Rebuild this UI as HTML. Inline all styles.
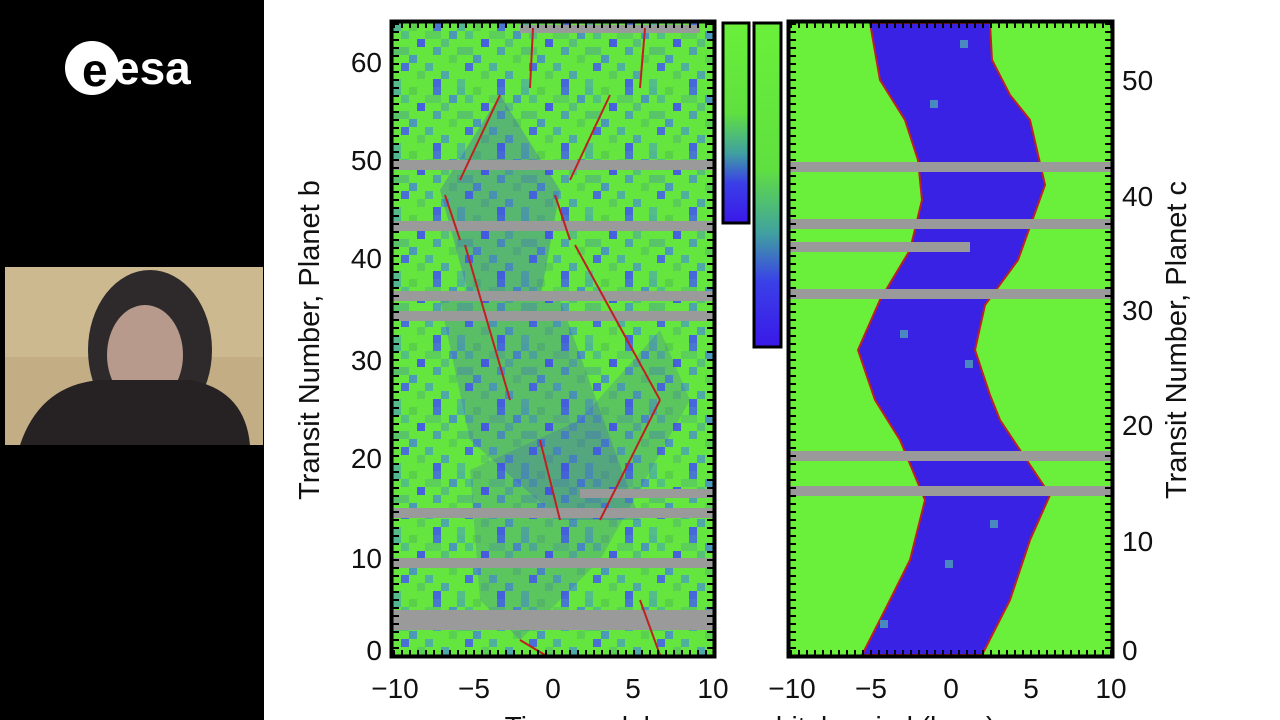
<!DOCTYPE html>
<html><head><meta charset="utf-8"><style>
html,body{margin:0;padding:0;width:1280px;height:720px;overflow:hidden;background:#fff;font-family:"Liberation Sans",sans-serif}
</style></head><body>
<svg width="1280" height="720" xmlns="http://www.w3.org/2000/svg" style="position:absolute;left:0;top:0">
<defs>
<pattern id="nz" x="393" y="23" width="64" height="64" patternUnits="userSpaceOnUse">
<rect width="64" height="64" fill="#64e63e"/>
<rect x="0" y="0" width="8" height="8" fill="#50b890"/><rect x="16" y="0" width="8" height="8" fill="#5ad04a"/>
<rect x="40" y="0" width="8" height="8" fill="#4878d0"/><rect x="8" y="8" width="8" height="8" fill="#52c080"/>
<rect x="32" y="8" width="16" height="8" fill="#5ccf5a"/><rect x="56" y="8" width="8" height="8" fill="#4c98b8"/>
<rect x="24" y="16" width="8" height="8" fill="#4860dc"/><rect x="48" y="16" width="8" height="8" fill="#56c078"/>
<rect x="0" y="24" width="16" height="8" fill="#58c468"/><rect x="40" y="24" width="8" height="8" fill="#4ea4a8"/>
<rect x="16" y="32" width="8" height="8" fill="#4c98b8"/><rect x="56" y="32" width="8" height="8" fill="#5ad050"/>
<rect x="8" y="40" width="8" height="8" fill="#4a70d8"/><rect x="32" y="40" width="8" height="8" fill="#50b0a0"/>
<rect x="48" y="48" width="8" height="8" fill="#4ea8a8"/><rect x="24" y="48" width="8" height="8" fill="#5ccc58"/>
<rect x="0" y="56" width="8" height="8" fill="#54bc88"/><rect x="40" y="56" width="8" height="8" fill="#4866dc"/>
</pattern>
<linearGradient id="cb" x1="0" y1="0" x2="0" y2="1">
<stop offset="0" stop-color="#6af03a"/><stop offset="0.45" stop-color="#60e040"/><stop offset="0.65" stop-color="#40a0a0"/><stop offset="0.8" stop-color="#3a40e8"/><stop offset="1" stop-color="#3a18e8"/></linearGradient>
</defs>
<rect x="0" y="0" width="264" height="720" fill="#000"/>
<circle cx="92" cy="68" r="27" fill="#fff"/>
<text x="82" y="86" font-size="46" font-weight="bold" fill="#000">e</text>
<text x="114" y="84" font-size="46" font-weight="bold" fill="#fff">esa</text>
<rect x="5" y="267" width="258" height="178" fill="#c2ad84"/>
<rect x="5" y="267" width="258" height="90" fill="#cdb98f"/>
<ellipse cx="150" cy="350" rx="62" ry="80" fill="#2e2a2c"/>
<ellipse cx="145" cy="355" rx="38" ry="50" fill="#b89a8c"/>
<path d="M20 445 Q40 385 100 380 L190 380 Q245 390 250 445 Z" fill="#262224"/>
<!-- left panel -->
<rect x="393" y="23" width="320" height="632" fill="url(#nz)"/>
<polygon points="440,190 500,95 560,190 540,300 470,300" fill="#3c48e0" opacity="0.3"/>
<polygon points="440,300 560,300 640,520 560,520 470,440" fill="#3c48e0" opacity="0.25"/>
<polygon points="470,470 580,420 660,330 690,400 600,560 520,640 480,600" fill="#3c48e0" opacity="0.2"/>
<g fill="#9a9a9a">
<rect x="393" y="160" width="320" height="10"/><rect x="393" y="221" width="320" height="10"/>
<rect x="393" y="291" width="320" height="10"/><rect x="393" y="311" width="320" height="10"/>
<rect x="580" y="489" width="133" height="9"/><rect x="393" y="508" width="320" height="10"/>
<rect x="393" y="558" width="320" height="10"/><rect x="393" y="610" width="320" height="20"/>
<rect x="520" y="25" width="180" height="8"/></g>
<g stroke="#c02020" stroke-width="2" fill="none">
<path d="M533 28 L530 88 M645 28 L640 88 M500 95 L460 180 M610 95 L570 180 M445 195 L460 240 M555 195 L570 240 M465 245 L510 400 M575 245 L660 400 M540 440 L560 520 M660 400 L600 520 M520 640 L545 655 M640 600 L660 655"/></g>
<!-- colorbars -->
<rect x="723" y="23" width="26" height="200" fill="url(#cb)" stroke="#000" stroke-width="3"/>
<rect x="754" y="23" width="27" height="324" fill="url(#cb)" stroke="#000" stroke-width="3"/>
<!-- right panel -->
<rect x="790" y="23" width="321" height="632" fill="#6af03a"/>
<polygon points="870,23 880,80 905,120 918,160 922,200 910,250 880,300 858,350 875,400 900,440 925,500 910,560 885,610 862,655 982,655 1010,600 1030,540 1050,495 1020,450 1000,420 990,395 975,350 985,305 1018,260 1045,185 1030,120 1010,95 992,60 990,23" fill="#3a22e4" stroke="#c02020" stroke-width="2"/>
<g fill="#4a88c0"><rect x="930" y="100" width="8" height="8"/><rect x="960" y="40" width="8" height="8"/><rect x="900" y="330" width="8" height="8"/><rect x="965" y="360" width="8" height="8"/><rect x="945" y="560" width="8" height="8"/><rect x="990" y="520" width="8" height="8"/><rect x="880" y="620" width="8" height="8"/></g>
<g fill="#9a9a9a">
<rect x="790" y="162" width="321" height="10"/><rect x="790" y="219" width="321" height="10"/>
<rect x="790" y="242" width="180" height="10"/><rect x="790" y="289" width="321" height="10"/>
<rect x="790" y="451" width="321" height="10"/><rect x="790" y="486" width="321" height="10"/></g>
<!-- frames and ticks -->
<rect x="391.5" y="21.5" width="323" height="635" fill="none" stroke="#000" stroke-width="4"/>
<rect x="788.5" y="21.5" width="324" height="635" fill="none" stroke="#000" stroke-width="4"/>
<g stroke="#000" stroke-width="6" stroke-dasharray="2 6" fill="none">
<line x1="396" y1="23" x2="396" y2="655"/><line x1="710" y1="23" x2="710" y2="655"/>
<line x1="393" y1="25" x2="713" y2="25"/><line x1="393" y1="653" x2="713" y2="653"/>
<line x1="793" y1="23" x2="793" y2="655"/><line x1="1108" y1="23" x2="1108" y2="655"/>
<line x1="790" y1="25" x2="1111" y2="25"/><line x1="790" y1="653" x2="1111" y2="653"/></g>
<g font-size="28" fill="#111" text-anchor="end">
<text x="382" y="72">60</text><text x="382" y="170">50</text><text x="382" y="268">40</text>
<text x="382" y="370">30</text><text x="382" y="468">20</text><text x="382" y="568">10</text><text x="382" y="660">0</text></g>
<g font-size="28" fill="#111" text-anchor="start">
<text x="1122" y="90">50</text><text x="1122" y="206">40</text><text x="1122" y="320">30</text>
<text x="1122" y="435">20</text><text x="1122" y="551">10</text><text x="1122" y="660">0</text></g>
<g font-size="28" fill="#111" text-anchor="middle">
<text x="395" y="698">−10</text><text x="474" y="698">−5</text><text x="553" y="698">0</text><text x="633" y="698">5</text><text x="713" y="698">10</text>
<text x="792" y="698">−10</text><text x="871" y="698">−5</text><text x="951" y="698">0</text><text x="1031" y="698">5</text><text x="1111" y="698">10</text>
<text x="750" y="736">Time modulo mean orbital period (hour)</text></g>
<text font-size="29" fill="#111" text-anchor="middle" transform="translate(319,340) rotate(-90)">Transit Number, Planet b</text>
<text font-size="29" fill="#111" text-anchor="middle" transform="translate(1186,340) rotate(-90)">Transit Number, Planet c</text>
</svg>
</body></html>
